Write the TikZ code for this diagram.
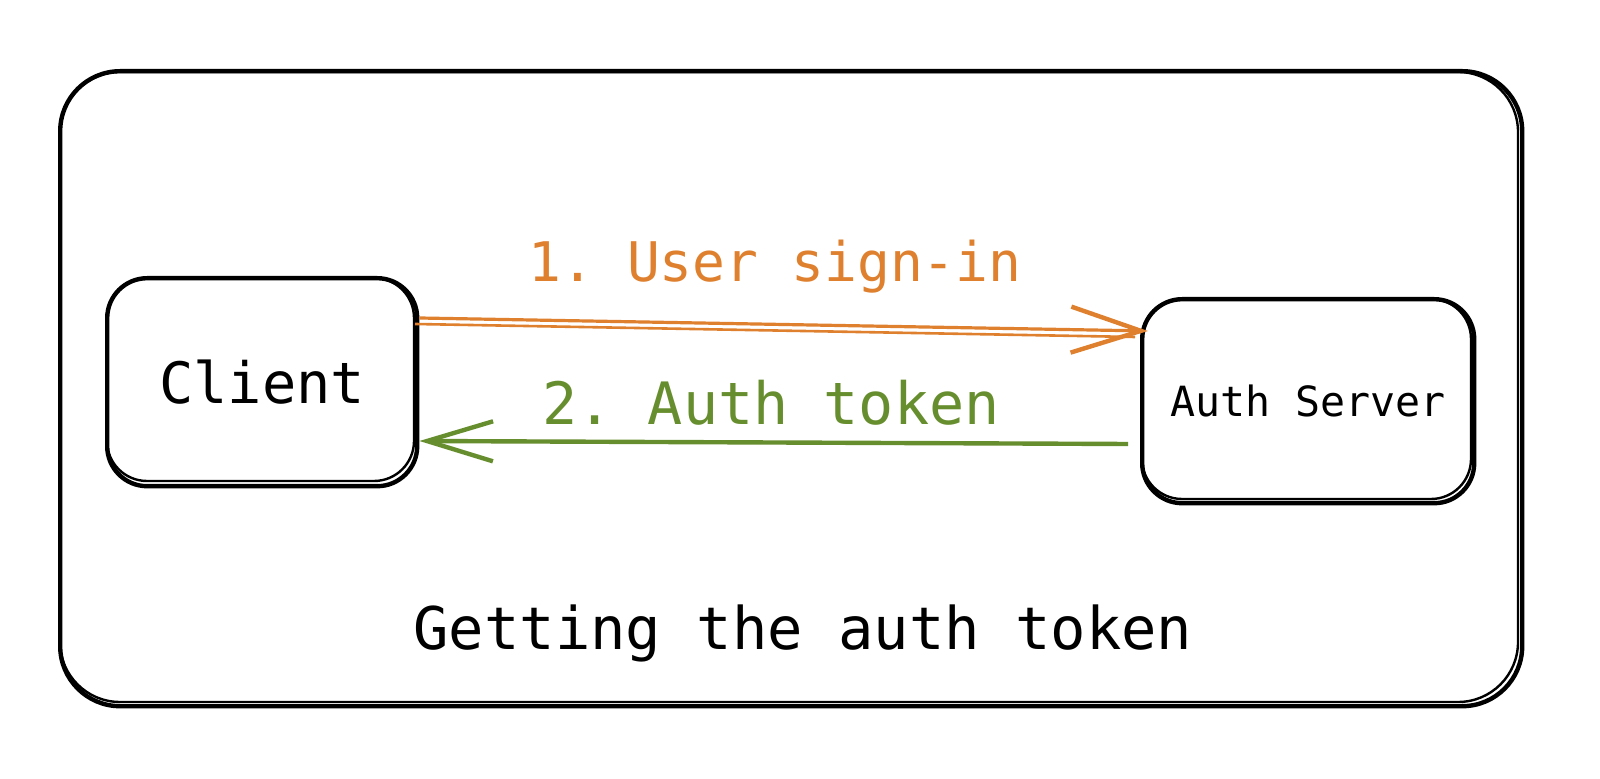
\documentclass[tikz,border=0pt]{standalone}
\usepackage{fontspec}
\setmonofont{DejaVu Sans Mono}
\usetikzlibrary{arrows.meta}
\definecolor{orangec}{RGB}{222,128,46}
\definecolor{greenc}{RGB}{103,142,46}
\tikzset{
  box/.style={draw=black, line width=2.2pt, rounded corners=20pt, inner sep=0pt},
  boxtwin/.style={draw=black, line width=1.2pt, rounded corners=20pt},
  orangearrow/.style={draw=orangec, line width=1.6pt, -{Straight Barb[length=35pt, width=23pt, line width=2.2pt]}},
  greenarrow/.style={draw=greenc, line width=2.2pt, -{Straight Barb[length=33pt, width=20pt, line width=2.2pt]}},
}
\begin{document}
\begin{tikzpicture}[x=0.5pt, y=-0.5pt]
\useasboundingbox (0,0) rectangle (1600,779);
% outer frame
\node[box, rounded corners=30pt, minimum width=731pt, minimum height=317.5pt, anchor=north west] (frame) at (58,69) {};
\draw[boxtwin, rounded corners=30pt] (60,72) rectangle (1518,702);
% client
\node[box, minimum width=155pt, minimum height=104pt, anchor=north west, font=\ttfamily\fontsize{28.5}{30}\selectfont] (client) at (105,276) {Client};
\draw[boxtwin] (107,278) rectangle (414,481);
% auth server
\node[box, minimum width=166pt, minimum height=102pt, anchor=north west, font=\ttfamily\fontsize{20.8}{22}\selectfont] (auth) at (1140,297) {Auth Server};
\draw[boxtwin] (1142,299) rectangle (1471,499);
% connectors
\coordinate (o1) at (415,318);
\coordinate (o2) at (1146,331);
\coordinate (g1) at (1128,444);
\coordinate (g2) at (418,441);
\draw[orangearrow] (client.east |- o1) -- ([xshift=4pt]auth.west |- o2);
\draw[draw=orangec, line width=1.3pt] (415,324) -- (1135,337);
\draw[greenarrow] (g1) -- (client.east |- g2);
% labels
\node[font=\ttfamily\fontsize{27.3}{29}\selectfont, text=orangec] (l1) at (775,267) {1. User sign-in};
\node[font=\ttfamily\fontsize{29.2}{31}\selectfont, text=greenc] (l2) at (771,403) {2. Auth token};
\node[font=\ttfamily\fontsize{29.4}{31}\selectfont] (l3) at (803,633) {Getting the auth token};
\end{tikzpicture}
\end{document}
